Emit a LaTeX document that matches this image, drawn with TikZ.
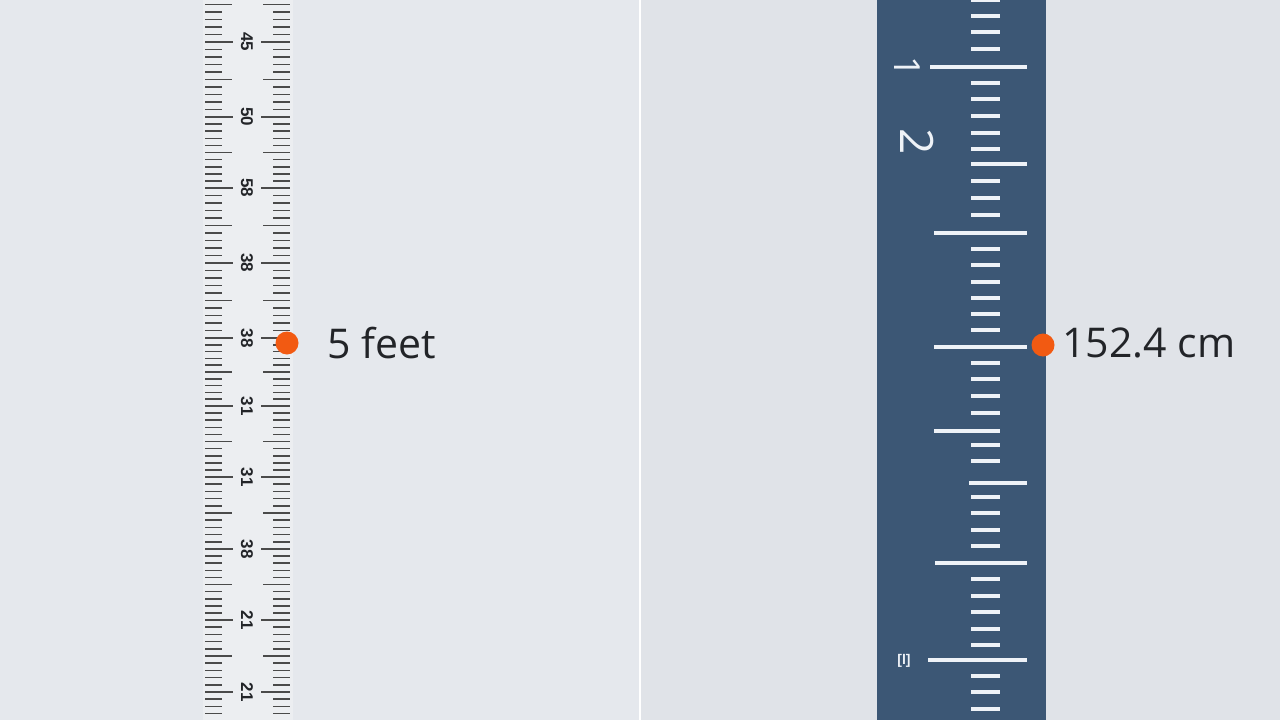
\documentclass[tikz,border=0pt]{standalone}
\usepackage{fontspec}
\setmainfont{Open Sans}
\newfontfamily\rulerfont{Liberation Sans}
\definecolor{bgleft}{HTML}{E5E8ED}
\definecolor{bgright}{HTML}{E0E3E8}
\definecolor{rulerlight}{HTML}{ECEEF1}
\definecolor{rulerdark}{HTML}{3C5775}
\definecolor{tickdark}{HTML}{4A4A4A}
\definecolor{tickwhite}{HTML}{EEF2F7}
\definecolor{dotorange}{HTML}{F25A12}
\definecolor{textdark}{HTML}{222428}
\begin{document}
\begin{tikzpicture}[x=1pt,y=-1pt,
  lefttick/.style={draw=tickdark,line width=1.6pt},
  righttick/.style={draw=tickwhite,line width=4pt},
  rlabel/.style={font=\rulerfont\bfseries\fontsize{17}{17}\selectfont,text=textdark,rotate=-90,inner sep=0pt},
  marker/.style={circle,fill=dotorange,minimum size=23pt,inner sep=0pt},
  valuelabel/.style={font=\fontsize{41}{41}\selectfont,text=textdark,anchor=west,inner sep=0pt}]
\useasboundingbox (0,0) rectangle (1280,720);
% backgrounds
\fill[bgleft] (0,0) rectangle (639,720);
\fill[bgright] (641,0) rectangle (1280,720);
\fill[white] (639,0) rectangle (641,720);
% left ruler
\fill[rulerlight] (203,0) rectangle (293,720);
% minor / mid ticks, left ruler
\foreach \ya/\yb in {-33/42,42/117,117/188,188/263,263/338,338/406,406/477,477/549,549/620,620/692,692/764}{
  \foreach \k in {1,...,9}{
    \pgfmathsetmacro{\yy}{\ya+(\yb-\ya)*\k/10}
    \ifnum\k=5
      \draw[lefttick] (205,\yy) -- (232,\yy);
      \draw[lefttick] (263,\yy) -- (290,\yy);
    \else
      \draw[lefttick] (205,\yy) -- (222,\yy);
      \draw[lefttick] (273,\yy) -- (290,\yy);
    \fi
  }
}
% labelled ticks, left ruler
\foreach \y/\t [count=\i] in {42/45,117/50,188/58,263/38,338/38,406/31,477/31,549/38,620/21,692/21}{
  \draw[lefttick] (205,\y) -- (233,\y);
  \draw[lefttick] (261,\y) -- (290,\y);
  \node[rlabel] (lab\i) at (247,\y) {\t};
}
% right ruler
\fill[rulerdark] (877,0) rectangle (1046,720);
\foreach \y in {0,16,32,49,83,99,116,133,149,181,198,215,249,265,282,298,314,330,363,379,396,413,445,461,497,513,530,546,579,596,612,629,645,676,692,709}{
  \draw[righttick] (971,\y) -- (1000,\y);
}
\foreach \y/\xa/\xb in {67/930/1027,164/971/1027,233/934/1027,347/934/1027,431/934/1000,483/969/1027,563/935/1027,660/928/1027}{
  \draw[righttick] (\xa,\y) -- (\xb,\y);
}
\node[font=\fontsize{36}{36}\selectfont,text=tickwhite,rotate=-90,inner sep=0pt] (one) at (907,67) {1};
\node[font=\fontsize{46}{46}\selectfont,text=tickwhite,rotate=-90,inner sep=0pt] (two) at (917,142) {2};
\node[font=\rulerfont\bfseries\fontsize{14}{14}\selectfont,text=tickwhite,inner sep=0pt] (three) at (904,661) {[l]};
% markers and labels
\node[marker] (dotL) at (287,343) {};
\node[valuelabel] (feet) at (327,343) {5 feet};
\node[marker] (dotR) at (1043,345) {};
\node[valuelabel] (cm) at (1062,343) {152.4 cm};
\end{tikzpicture}
\end{document}
